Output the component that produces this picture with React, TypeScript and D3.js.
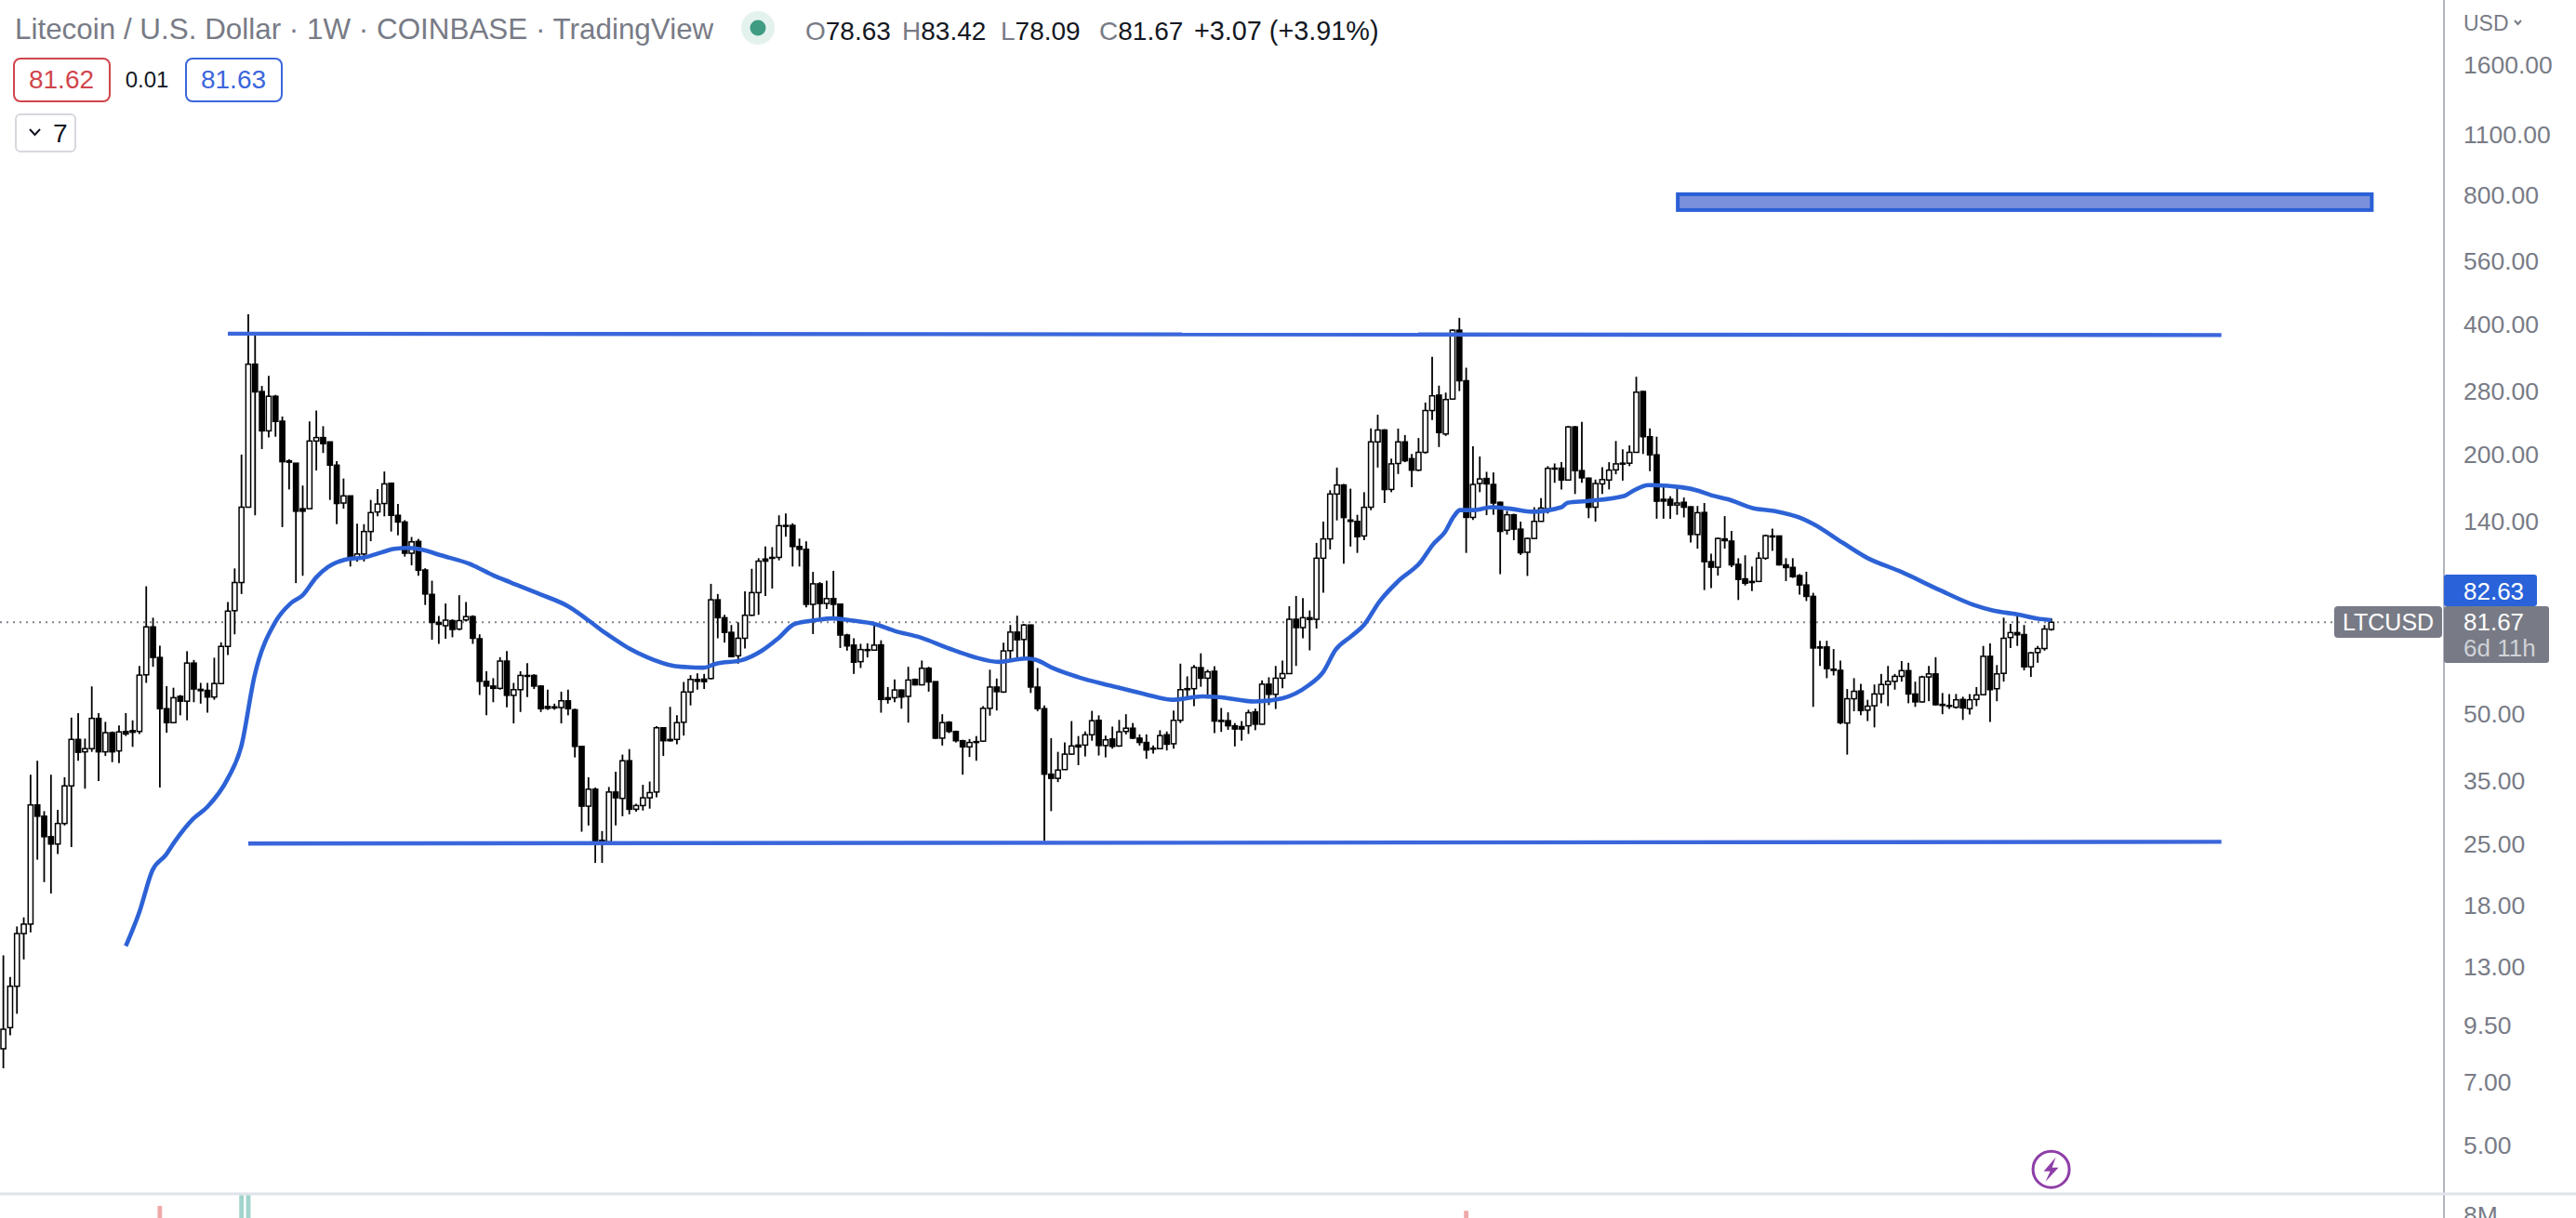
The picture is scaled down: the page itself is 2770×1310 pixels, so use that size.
import React, { useEffect, useMemo, useRef } from 'react';
import * as d3 from 'd3';

const WIDTH = 2770;
const HEIGHT = 1310;
const AXIS_X = 2628;
const PANE_BOTTOM = 1284;
const FONT = '"Liberation Sans", Arial, sans-serif';

const blue = '#3b66dc';
const maBlue = '#2d62d6';
const grey = '#787b86';

// weekly candles
const opens = [
  8.38, 9.38, 11.7, 15.5, 16.3, 30.8, 29, 26, 25, 27.9,
  34.1, 43.7, 40.9, 41.6, 48.9, 40.9, 45.3, 41.1, 45.6, 45.8,
  45.6, 61.7, 79.7, 67.7, 51.5, 47.8, 55, 53.6, 65.7, 57.1,
  56.8, 54.8, 58.9, 71.8, 86.9, 101, 151, 324, 280, 227,
  273, 239, 193.4, 191, 149.8, 149.8, 215, 219, 214, 189,
  154.4, 160.4, 115.2, 117.6, 132.6, 147.2, 154, 171.6, 144.6, 139.5,
  118.1, 125.8, 108, 94.8, 81.6, 80.2, 82.4, 78.8, 82.7, 84.2,
  74.8, 59.6, 58.1, 57.4, 66.4, 55.3, 57, 61.3, 61.5, 58.1,
  52.1, 51.7, 51.8, 53.7, 51.2, 42.1, 30.6, 33.5, 25.5, 25.3,
  33, 31.9, 39, 30.1, 30.7, 32, 33, 46.5, 43.7, 43.7,
  47.9, 56.3, 60.2, 60.3, 60.5, 92.1, 83.7, 77.4, 68.3, 75,
  84.8, 95.7, 114.5, 115.3, 115.5, 137, 137, 122.4, 120.6, 89.9,
  100.3, 90.3, 92.7, 90, 76.3, 72.3, 66.2, 70.4, 70.4, 72.4,
  54.6, 54.6, 56.9, 55, 60.2, 58.5, 63.9, 59.5, 44, 47.9,
  45.6, 43.4, 42, 43, 43.3, 51.6, 57.8, 56.3, 70.2, 77.5,
  74.5, 80.5, 57.8, 51.5, 36.3, 35.5, 37.2, 40.4, 42.4, 42.4,
  44.8, 48.4, 42.3, 43.8, 42.2, 45.6, 46.4, 44, 43, 41.5,
  41.6, 44.8, 42.7, 48.4, 57, 57.3, 64.1, 60.6, 62.9, 48.4,
  48.3, 47, 46.8, 47, 50.6, 47.4, 58.7, 55.6, 60.6, 62.1,
  83, 79.4, 83.7, 83, 115, 127.5, 162, 170, 141, 140,
  129.5, 151, 214, 228, 166, 190.7, 214, 195.7, 184, 202.4,
  253, 274.7, 223.2, 269, 388.5, 296.6, 143, 171.4, 176, 170.5,
  155, 133.5, 145, 134.3, 118.7, 127.8, 140, 149.7, 185.6, 186,
  174.6, 231.8, 183.6, 176.3, 151, 171, 174.6, 184.3, 190.5, 191,
  202.4, 280, 220, 199.7, 157.5, 157.5, 152.8, 155, 151.3, 130.5,
  146.8, 112.9, 109.6, 127.5, 126, 111.3, 103, 101.6, 101.6, 115,
  129.3, 129.5, 111, 109.5, 104.8, 99.7, 93.8, 71.6, 71.6, 63.6,
  63.2, 47.7, 54.3, 56.6, 51.1, 52.3, 55.7, 58.6, 59.6, 61.2,
  63.1, 55.7, 53.4, 61, 62, 52.7, 52.4, 51.9, 54.1, 51.5,
  54.1, 55.5, 68.1, 57.3, 62.2, 75.3, 77.3, 76.5, 64.4, 69.5, 71, 78.63,
];

const highs = [
  13.8, 12.3, 16.1, 16.9, 36.2, 39, 29.8, 36.2, 30, 35.7,
  49.1, 50.3, 43.9, 58, 50.3, 48, 45.6, 47.1, 50.3, 48.4,
  64.7, 99, 83.7, 72.1, 58.1, 57.6, 55.4, 70, 66.8, 59.1,
  59.1, 67.6, 73.4, 91, 108.9, 200, 423, 380, 288.5, 304.6,
  275, 245, 195, 191, 169.5, 238.7, 253, 232.7, 214, 193,
  176, 160.4, 138.2, 137.9, 157, 166.3, 182.7, 172.3, 153.6, 140.9,
  128.8, 127.5, 109, 102, 84.5, 90.3, 83, 94.4, 91, 84.8,
  76.6, 62.9, 60.6, 67.8, 70, 59.1, 62.9, 65.7, 61.9, 58.4,
  57, 52.9, 56.4, 57, 51.5, 42.2, 35.7, 33.8, 26.8, 33.9,
  36.8, 40.3, 41.5, 31, 34.3, 34.9, 46.9, 46.5, 52, 49.7,
  59.4, 61.6, 62.2, 62, 100.3, 95, 85, 80.5, 81.7, 96.3,
  108.7, 115, 122.4, 122, 144.6, 146, 138.6, 127.7, 125.9, 106.9,
  101.2, 102, 107.5, 90.3, 76.8, 75, 72.8, 73, 81, 74.2,
  57.8, 60.2, 57, 64.4, 60.5, 66.6, 64.4, 59.5, 50, 48.2,
  45.8, 43.6, 43.8, 44.5, 52.2, 63.4, 60.5, 73.2, 80.5, 84.6,
  81, 80.7, 64, 52.4, 44, 40.9, 43, 48.2, 44.5, 45.6,
  50.9, 49.7, 44.6, 46.8, 48.5, 50, 47.7, 44.9, 44.9, 42.3,
  45.9, 45.6, 51, 65.5, 61.2, 65, 69.2, 63.4, 64.6, 51.7,
  50.5, 47.7, 48.2, 51.2, 51.5, 59.9, 60.9, 64.7, 66.6, 89,
  94, 93, 87, 124.8, 139.8, 165.3, 186.6, 171, 166.7, 145,
  163.6, 230, 247.4, 229, 195.7, 229.8, 222, 200.6, 218.5, 264,
  337, 289, 278.4, 390, 415, 318, 209, 198, 182.4, 181.8,
  155.6, 148, 145.8, 139.8, 128.3, 151, 158.5, 188, 190.7, 192,
  233, 233, 238, 177, 175, 187, 192, 215, 205.7, 210,
  303, 281, 230, 220, 170.5, 160, 167, 159, 151.7, 152,
  154.4, 117.8, 128.3, 144, 133, 115, 116.8, 110, 118.8, 130.5,
  134.7, 129.5, 115, 115, 105.6, 107, 95.6, 74, 74, 70.8,
  66.6, 57.2, 60.6, 58.8, 54, 58.6, 62, 64.7, 62, 66.4,
  65.8, 59.5, 61.4, 64.7, 67.8, 56, 55.7, 55.7, 54.9, 55.7,
  57.8, 72, 73, 65, 83.7, 81, 85.2, 80.5, 69.7, 72, 80.5, 83.42,
];

const lows = [
  7.55, 9, 10.1, 13.5, 15.6, 23, 20.4, 19.2, 23.7, 27.6,
  24.6, 39, 33.6, 40.9, 35, 40, 38.7, 38.5, 44.5, 42,
  45, 59.1, 64.4, 33.8, 45.3, 47.8, 49.7, 48.4, 53.3, 52.9,
  50.4, 54, 58.7, 68.6, 76.6, 95, 151, 144.6, 206, 219,
  220, 135.8, 166, 100.7, 104.7, 149.8, 183.7, 201.7, 157, 138,
  149.8, 110, 113, 113, 125.9, 143.8, 143.8, 132.6, 129.9, 116,
  110.7, 104.7, 89.6, 74.4, 72.8, 74.8, 75.4, 78.2, 82, 72.8,
  55.4, 49.7, 53.3, 57, 51.9, 47.6, 50.6, 54.8, 57.2, 50.6,
  51.2, 51.2, 47.6, 49.7, 39.7, 26.7, 27.6, 22.6, 22.6, 25.3,
  27.6, 29, 29.3, 29.7, 29.9, 30.2, 32.1, 40, 43.2, 42.6,
  44.6, 52.4, 57, 57.2, 60.2, 75, 73.3, 67.7, 65.5, 71,
  84.5, 85, 94, 97.8, 113.7, 129, 110, 110, 88.5, 76.7,
  83, 87.7, 82.8, 71.2, 70.2, 62, 64, 67.7, 70.2, 50.4,
  52.9, 53.3, 51.5, 47.8, 58.3, 58.3, 56.4, 43.8, 42.3, 45.2,
  43, 36.2, 39.8, 39, 43.1, 49.6, 51, 56, 66.9, 66.9,
  66.7, 56, 50.8, 25.4, 29.8, 34.8, 37.2, 40.3, 38.1, 39.9,
  43.4, 40.1, 39.7, 41.6, 42, 44.9, 43.8, 42.3, 39.4, 40.5,
  41.5, 41.2, 41.6, 47.7, 54.9, 52.2, 57.9, 54.4, 45.2, 45.5,
  46, 42.1, 43.4, 45, 45.9, 47.3, 52.5, 51.4, 57.4, 62.1,
  64.7, 75, 70.3, 79, 95.6, 120.5, 140.7, 111.7, 122.4, 118.3,
  126.6, 148.6, 186.6, 154.4, 163.6, 180.3, 192, 168, 183, 201,
  240.5, 208.2, 221, 268, 280.7, 118.3, 141, 163.6, 144.7, 145,
  105.6, 130.5, 126.6, 117, 104.6, 127.5, 139.8, 146, 172, 165.9,
  174, 162, 172, 142.4, 139.8, 162, 166, 180, 174, 188,
  202.4, 200.6, 183, 142, 142, 142, 145, 143, 125, 121,
  97, 98, 104.8, 121, 109.6, 92, 99.4, 96.5, 101.2, 114,
  119.6, 110.6, 101.8, 103.5, 94.7, 91.5, 52, 64.7, 60.6, 61.5,
  47.4, 40.3, 50.8, 49.7, 48.2, 46.6, 53, 52.2, 57, 59.5,
  53, 52, 53.2, 53.6, 52.4, 50, 51.4, 51.5, 48.5, 49.9,
  52.2, 55.3, 48, 53.6, 59.5, 71.2, 72, 63.2, 61, 65.8, 70.2, 78.09,
];

const closes = [
  9.3, 11.7, 15.5, 16.3, 30.8, 29, 26, 25, 27.9, 34.1,
  43.7, 40.8, 41.6, 48.9, 40.9, 45.3, 40.9, 45.5, 45, 45.4,
  61.6, 79.7, 67.7, 51.5, 47.8, 54.6, 53.6, 65.7, 57.2, 56.7,
  54.8, 58.9, 71.8, 86.7, 101, 151, 324, 279.5, 227, 273,
  238.7, 192.5, 192, 147.8, 147.8, 215, 219, 212, 189, 154,
  160.4, 114.6, 117.6, 132.6, 146.7, 153.6, 171, 144.6, 139.5, 118.1,
  125.5, 107.9, 95, 81.6, 80.8, 82.6, 78.6, 82.4, 84.2, 75,
  59.6, 58.1, 57.4, 66.4, 55.3, 57, 61.5, 61.5, 58.1, 51.5,
  51.6, 52, 53.7, 51.5, 42.1, 30.6, 33.5, 25.3, 25, 33,
  32, 39, 30.1, 30.7, 32, 32.9, 46.5, 43.4, 43.4, 47.8,
  56.3, 60.2, 59.6, 59.5, 92.1, 83.7, 77.4, 68, 75, 84.8,
  95.7, 113.2, 113.2, 115.5, 136.8, 137, 122.4, 120.6, 89.9, 100.3,
  90.3, 92.7, 89.9, 76.3, 72, 66, 70.6, 70.6, 72.3, 54.1,
  54.1, 56.9, 54.8, 60, 58.5, 63.9, 59.4, 44, 47.8, 45.6,
  43.4, 42, 43, 43.2, 51.6, 57.8, 56.4, 70.1, 77.5, 74.4,
  80.5, 57.8, 51.5, 36.3, 35.5, 37.1, 40.4, 42.2, 42, 44.8,
  48.3, 42.3, 43.6, 42.1, 45.5, 46.4, 44, 43, 41.3, 41.7,
  44.6, 42.6, 48.4, 57, 57.3, 64.2, 60.6, 62.7, 48.2, 48.1,
  47, 46.2, 46.2, 50.4, 47.4, 58.7, 55.6, 60.6, 62.1, 83,
  79.4, 83.7, 82.9, 115, 127.5, 162, 170, 142.9, 140, 129,
  150.9, 214, 228, 165.9, 190.3, 214, 193.5, 184, 202.4, 253,
  273.7, 224.9, 268.3, 388.5, 296.6, 143, 170.5, 175.6, 171, 154.4,
  132.7, 145, 134.3, 118.4, 127.8, 140, 150.3, 185.8, 186, 174.6,
  231.8, 183.6, 176.6, 150.9, 171.3, 175, 184, 190.3, 191, 202.4,
  279, 220, 199.7, 155.9, 156, 152.6, 154.4, 151, 130.5, 146.6,
  112.9, 109.6, 127.8, 126.3, 111, 102.7, 100.6, 101, 115, 129.7,
  129.5, 111, 109.4, 104.2, 99.7, 93.8, 71.2, 71.2, 63.8, 63.2,
  47.8, 54.3, 56.5, 51, 52.2, 55.7, 58.6, 59.6, 61.2, 63.1,
  55.7, 53.4, 61, 62, 52.6, 52.4, 52.2, 54, 51.7, 54,
  55.4, 68.1, 57, 62, 75, 77.3, 76.4, 64.4, 69.4, 71, 78.8, 81.67,
];

// moving average, sampled along the curve (week index, price)
const maWeeks = [
  18, 20, 21.9, 23.9, 25.1, 27.9, 30, 33, 35, 36.9, 40, 42.2, 44, 46, 47.7, 50.2, 53.2, 55.6, 57.5, 59.6,
  61.7, 64.2, 68.5, 72.1, 74.6, 78.8, 83.1, 86.1, 88.3, 90.2, 92, 94.7, 98.4, 100.5, 102.9, 104.8, 108.5, 111.5, 113.9, 116.3,
  119.4, 121.9, 124.9, 128, 131, 134.7, 139, 142.6, 146.3, 150.3, 151.8, 154.2, 157.9, 162.8, 167.7, 172, 176.2, 178.6, 183.9, 187.9,
  191.8, 194, 195.8, 198.2, 200, 202.2, 205, 208.3, 210.1, 211.9, 213.2, 214.1, 216.2, 218.7, 221.7, 224.7, 229, 229.9, 232.7, 238.2,
  239.4, 241.8, 246.7, 249.2, 251, 253.5, 257.1, 260.2, 264.4, 266, 270.3, 273.9, 278.9, 284.6, 289.6, 292.5, 296, 298.9, 301,
];
const maValues = [
  14.5, 17.4, 21.7, 23.6, 25.2, 28.6, 30.5, 35.5, 42.3, 61.2, 81.9, 90.3, 94.4, 103.9, 109.7, 114.1, 115.6, 118.6, 120.9, 121.5,
  120.2, 116.9, 111.6, 104.8, 101, 95, 88.8, 82.3, 77.5, 74, 71, 67.7, 64.8, 64.3, 64.1, 65.5, 66.7, 70.2, 75, 81,
  82.6, 83.4, 82.4, 81, 78, 75.4, 71, 67.9, 66.1, 67.3, 66.8, 64, 61, 58.2, 55.7, 54, 55, 54.8, 53.5, 54.4,
  58.3, 62.7, 70.5, 76, 80.6, 91, 101.7, 112.7, 123.6, 132.4, 143.9, 148.7, 148.7, 151, 149.6, 147.4, 151, 154.6, 156, 160.3,
  164.3, 169.9, 167.9, 164.7, 161, 157.5, 150.3, 148, 142, 138.1, 125, 115.3, 107, 97, 89.6, 86.9, 85.2, 83.3, 82.63,
];

// drawn trend lines and the target zone: [week, price]
const resistanceLine = [[33, 381.3], [326, 378.6]];
const supportLine = [[36, 25.07], [326, 25.3]];
const zoneWeeks = [246.1, 348.1];
const zonePrices = [803, 738];

const yTicks = [1600, 1100, 800, 560, 400, 280, 200, 140, 50, 35, 25, 18, 13, 9.5, 7, 5];

// only the tallest volume bars reach into the picture
const volumeWeeks = [23, 35, 36, 215];
const volumeValues = [8.96e6, 10.2e6, 10.2e6, 8.5e6];
const volumeDown = [true, false, false, true];

const lastPrice = 81.67;
const lastMa = 82.63;

const ohlcLabels = ['O', 'H', 'L', 'C'];
const ohlcValues = ['78.63', '83.42', '78.09', '81.67'];
const ohlcX = [866, 970, 1076, 1182];

const App = () => {
  const $axis = useRef<SVGGElement | null>(null);

  const x = useMemo(() => d3.scaleLinear().domain([0, 301]).range([3.6, 2205.8]), []);
  const y = useMemo(() => d3.scaleLog().domain([1600, 5]).range([70, 1232]), []);
  const yVol = useMemo(() => d3.scaleLinear().domain([0, 8e6]).range([1400, 1308]), []);

  const maLine = d3
    .line<number>()
    .x((d) => x(d))
    .y((_, i) => y(maValues[i]))
    .curve(d3.curveMonotoneX);

  const priceLine = d3
    .line<number[]>()
    .x((d) => x(d[0]))
    .y((d) => y(d[1]));

  useEffect(() => {
    const axis = d3
      .axisRight(y)
      .tickValues(yTicks)
      .tickSize(0)
      .tickPadding(21)
      .tickFormat(d3.format('.2f') as any);
    const g = d3.select($axis.current as SVGGElement).call(axis as any);
    g.select('.domain').remove();
    g.attr('font-family', FONT).attr('font-size', 26.5);
    g.selectAll('text').attr('fill', grey);
  }, [y]);

  const yLast = y(lastPrice);

  return (
    <svg
      width={WIDTH}
      height={HEIGHT}
      viewBox={`0 0 ${WIDTH} ${HEIGHT}`}
      style={{ position: 'absolute', left: 0, top: 0, background: '#fff' }}
      fontFamily={FONT}
    >
      {/* last price line */}
      <line x1={0} x2={2510} y1={yLast} y2={yLast} stroke="#80838c" strokeWidth={2} strokeDasharray="2 5" />

      {/* candles */}
      <g>
        {opens.map((o, i) => {
          const c = closes[i];
          const up = c >= o;
          const top = y(Math.max(o, c));
          const bottom = y(Math.min(o, c));
          return (
            <g key={i}>
              <line x1={x(i)} x2={x(i)} y1={y(highs[i])} y2={y(lows[i])} stroke="#000" strokeWidth={1.8} />
              <rect
                x={x(i) - 2.6}
                y={top}
                width={5.2}
                height={Math.max(bottom - top, 1)}
                fill={up ? '#fff' : '#000'}
                stroke="#000"
                strokeWidth={1.5}
              />
            </g>
          );
        })}
      </g>

      {/* moving average */}
      <path d={maLine(maWeeks) || ''} fill="none" stroke={maBlue} strokeWidth={4.6} />

      {/* trend lines */}
      <path d={priceLine(resistanceLine) || ''} fill="none" stroke={blue} strokeWidth={4.4} />
      <path d={priceLine(supportLine) || ''} fill="none" stroke={blue} strokeWidth={4.4} />

      {/* target zone */}
      <rect
        x={x(zoneWeeks[0])}
        y={y(zonePrices[0])}
        width={x(zoneWeeks[1]) - x(zoneWeeks[0])}
        height={y(zonePrices[1]) - y(zonePrices[0])}
        fill="#7a90dc"
        stroke="#2a5fd6"
        strokeWidth={4}
      />

      {/* header */}
      <text x={16} y={42} fontSize={31.4} fill={grey}>
        Litecoin / U.S. Dollar · 1W · COINBASE · TradingView
      </text>
      <ellipse cx={815} cy={30} rx={18} ry={18} fill="#e4f2ee" />
      <circle cx={815} cy={30} r={8.5} fill="#3f9c82" />
      {ohlcLabels.map((k, i) => (
        <text key={k} x={ohlcX[i]} y={43} fontSize={28}>
          <tspan fill={grey}>{k}</tspan>
          <tspan fill="#131722">{ohlcValues[i]}</tspan>
        </text>
      ))}
      <text x={1284} y={43} fontSize={28.8} fill="#131722">
        +3.07 (+3.91%)
      </text>

      <rect x={15} y={63} width={103} height={46} rx={7} fill="#fff" stroke="#d0454c" strokeWidth={2} />
      <text x={66} y={95} fontSize={28} textAnchor="middle" fill="#d0454c">
        81.62
      </text>
      <text x={158} y={94} fontSize={24} textAnchor="middle" fill="#131722">
        0.01
      </text>
      <rect x={200} y={63} width={103} height={46} rx={7} fill="#fff" stroke="#3b66dc" strokeWidth={2} />
      <text x={251} y={95} fontSize={28} textAnchor="middle" fill="#3b66dc">
        81.63
      </text>
      <rect x={17} y={123} width={64} height={40} rx={5} fill="#fff" stroke="#d6d8de" strokeWidth={2} />
      <path d="M32 139 l5.5 6 l5.5 -6" fill="none" stroke="#131722" strokeWidth={2} />
      <text x={57} y={153} fontSize={28} fill="#131722">
        7
      </text>

      {/* price axis */}
      <line x1={AXIS_X} x2={AXIS_X} y1={0} y2={HEIGHT} stroke="#b2b5be" strokeWidth={2} />
      <g ref={$axis} transform={`translate(${AXIS_X},0)`} />
      <text x={2649} y={33} fontSize={23} fill={grey}>
        USD
      </text>
      <path d="M2704 22 l3.5 4 l3.5 -4" fill="none" stroke={grey} strokeWidth={2} />

      {/* price tags */}
      <rect x={AXIS_X} y={618} width={100} height={34} rx={3} fill="#2962d9" />
      <text x={2649} y={645} fontSize={26} fill="#fff">
        {lastMa.toFixed(2)}
      </text>
      <rect x={2510} y={652} width={116} height={34} rx={4} fill={grey} />
      <text x={2519} y={678} fontSize={25} fill="#fff">
        LTCUSD
      </text>
      <rect x={AXIS_X} y={652} width={113} height={61} rx={3} fill={grey} />
      <text x={2649} y={678} fontSize={26} fill="#fff">
        {lastPrice.toFixed(2)}
      </text>
      <text x={2649} y={706} fontSize={26} fill="#d0d2d8">
        6d 11h
      </text>

      {/* replay / lightning badge */}
      <g transform="translate(2205.6,1257.7)">
        <circle r={19.5} fill="#fff" stroke="#8e3ea8" strokeWidth={3} />
        <path d="M5 -13 L-8 2 L-1 2 L-6 13 L8 -2 L1 -2 Z" fill="#8e3ea8" />
      </g>

      {/* volume pane */}
      <line x1={0} x2={WIDTH} y1={PANE_BOTTOM} y2={PANE_BOTTOM} stroke="#e0e3eb" strokeWidth={3} />
      <defs>
        <clipPath id="vol">
          <rect x={0} y={PANE_BOTTOM + 1.5} width={AXIS_X} height={HEIGHT - PANE_BOTTOM} />
        </clipPath>
      </defs>
      <g clipPath="url(#vol)">
        {volumeWeeks.map((w, i) => (
          <rect
            key={w}
            x={x(w) - 2.4}
            y={yVol(volumeValues[i])}
            width={4.8}
            height={yVol(0) - yVol(volumeValues[i])}
            fill={volumeDown[i] ? '#efa9a9' : '#a0d4cc'}
          />
        ))}
      </g>
      <text x={2649} y={1316} fontSize={26.5} fill={grey}>
        8M
      </text>
    </svg>
  );
};

export default App;
